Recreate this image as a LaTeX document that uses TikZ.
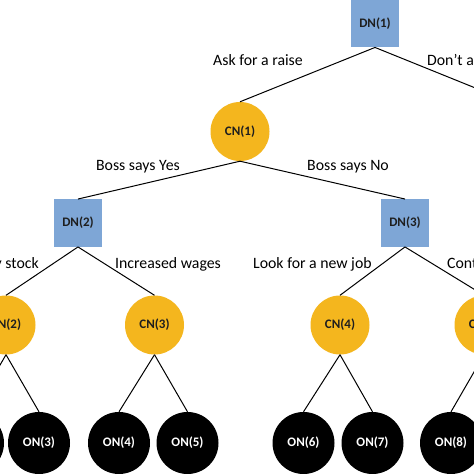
\documentclass[tikz,border=0pt]{standalone}
\usepackage{fontspec}
\setmainfont{Carlito}
\definecolor{dnblue}{HTML}{7EA6D6}
\definecolor{cngold}{HTML}{F4B61E}
\definecolor{nodetext}{HTML}{1E1E1E}
\begin{document}
\begin{tikzpicture}[x=1pt,y=1pt,
  dnbox/.style={rectangle,fill=dnblue,minimum size=47.5pt,inner sep=0pt,
    font=\fontsize{13}{15}\selectfont\bfseries,text=nodetext},
  cncirc/.style={circle,fill=cngold,minimum size=59pt,inner sep=0pt,
    font=\fontsize{13}{15}\selectfont\bfseries,text=nodetext},
  oncirc/.style={circle,fill=black,minimum size=62pt,inner sep=0pt,
    font=\fontsize{13}{15}\selectfont\bfseries,text=white},
  edge/.style={draw=black,line width=1pt},
  lbl/.style={inner sep=0pt,font=\fontsize{15.8}{18}\selectfont,text=black}]
\useasboundingbox (0,0) rectangle (474,474);
\clip (0,0) rectangle (474,474);
\fill[white] (0,0) rectangle (474,474);
% nodes
\node[dnbox] (dn1) at (375,450.5) {DN(1)};
\node[cncirc] (cn1) at (240,342.5) {CN(1)};
\coordinate (rchild) at (510,372);
\node[dnbox] (dn2) at (78,251) {DN(2)};
\node[dnbox] (dn3) at (405,251) {DN(3)};
\node[cncirc] (cn2) at (6,149) {CN(2)};
\node[cncirc] (cn3) at (154.5,149) {CN(3)};
\node[cncirc] (cn4) at (340,149) {CN(4)};
\node[cncirc] (cn5) at (484,149) {CN(5)};
\node[oncirc] (on2) at (-27,31) {ON(2)};
\node[oncirc] (on3) at (39,31) {ON(3)};
\node[oncirc] (on4) at (119,31) {ON(4)};
\node[oncirc] (on5) at (187.5,31) {ON(5)};
\node[oncirc] (on6) at (303.5,31) {ON(6)};
\node[oncirc] (on7) at (372.5,31) {ON(7)};
\node[oncirc] (on8) at (451,31) {ON(8)};
% edges
\draw[edge] (dn1.south) -- (cn1.north);
\draw[edge] (dn1.south) -- (rchild);
\draw[edge] (cn1.south) -- (dn2.north);
\draw[edge] (cn1.south) -- (dn3.north);
\draw[edge] (dn2.south) -- (cn2.north);
\draw[edge] (dn2.south) -- (cn3.north);
\draw[edge] (dn3.south) -- (cn4.north);
\draw[edge] (dn3.south) -- (cn5.north);
\draw[edge] (cn2.south) -- (on2.north);
\draw[edge] (cn2.south) -- (on3.north);
\draw[edge] (cn3.south) -- (on4.north);
\draw[edge] (cn3.south) -- (on5.north);
\draw[edge] (cn4.south) -- (on6.north);
\draw[edge] (cn4.south) -- (on7.north);
\draw[edge] (cn5.south) -- (on8.north);
% labels
\node[lbl,anchor=base west] (l1) at (213,408) {Ask for a raise};
\node[lbl,anchor=base west] (l2) at (427,408) {Don’t a};
\node[lbl,anchor=base east] (l3) at (180,303.3) {Boss says Yes};
\node[lbl,anchor=base west] (l4) at (307,303.3) {Boss says No};
\node[lbl,anchor=base east] (l5) at (39,205) {y stock};
\node[lbl,anchor=base west] (l6) at (115,205) {Increased wages};
\node[lbl,anchor=base west] (l7) at (253,205) {Look for a new job};
\node[lbl,anchor=base west] (l8) at (447,205) {Cont};
\end{tikzpicture}
\end{document}
